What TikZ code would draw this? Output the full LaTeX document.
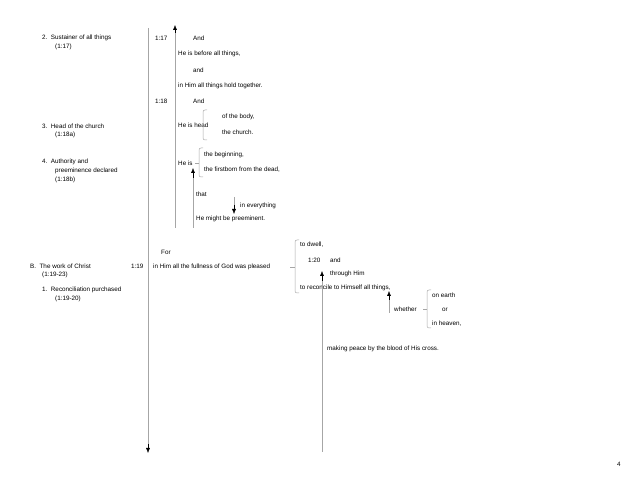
\documentclass[tikz,border=0pt]{standalone}
\usepackage{fontspec}
\setmainfont{Liberation Sans}
\usetikzlibrary{arrows.meta}
\begin{document}
\begin{tikzpicture}[x=1pt,y=-1pt,
  t/.style={anchor=west,inner sep=0pt,font=\fontsize{6.3}{7}\selectfont},
  ln/.style={draw=gray!70,line width=0.6pt},
  tip/.style={-{Latex[length=5pt,width=4pt]},black},
  brk/.style={draw=gray!70,line width=0.5pt,rounded corners=2pt}]
\useasboundingbox (0,0) rectangle (638,478);
% left outline
\node[t] (o2) at (42,38) {2.\ \ Sustainer of all things};
\node[t] (o2b) at (55,47) {(1:17)};
\node[t] (o3) at (42,126) {3.\ \ Head of the church};
\node[t] (o3b) at (55,135) {(1:18a)};
\node[t] (o4) at (42,162) {4.\ \ Authority and};
\node[t] (o4b) at (55,171) {preeminence declared};
\node[t] (o4c) at (55,180) {(1:18b)};
\node[t] (oB) at (30,266) {B.\ \ The work of Christ};
\node[t] (v19) at (131,266) {1:19};
\node[t] (oBb) at (42,275) {(1:19-23)};
\node[t] (o1) at (42,290) {1.\ \ Reconciliation purchased};
\node[t] (o1b) at (55,299) {(1:19-20)};
% text
\node[t] (v17) at (155,38) {1:17};
\node[t] (and1) at (193,38) {And};
\node[t] (bef) at (178,54) {He is before all things,};
\node[t] (and2) at (193,70) {and};
\node[t] (hold) at (178,86) {in Him all things hold together.};
\node[t] (v18) at (155,101) {1:18};
\node[t] (and3) at (193,101) {And};
\node[t] (body) at (222,117) {of the body,};
\node[t] (head) at (178,125) {He is head};
\node[t] (church) at (222,132) {the church.};
\node[t] (beg) at (204,155) {the beginning,};
\node[t] (heis) at (178,163) {He is};
\node[t] (first) at (204,170) {the firstborn from the dead,};
\node[t] (that) at (196,194) {that};
\node[t] (every) at (240,206) {in everything};
\node[t] (pre) at (196,219) {He might be preeminent.};
\node[t] (for) at (161,252) {For};
\node[t] (full) at (153,267) {in Him all the fullness of God was pleased};
\node[t] (dwell) at (300,245) {to dwell,};
\node[t] (v20) at (308,260) {1:20};
\node[t] (and4) at (330,260) {and};
\node[t] (thru) at (330,274) {through Him};
\node[t] (recon) at (300,288) {to reconcile to Himself all things,};
\node[t] (earth) at (432,295) {on earth};
\node[t] (whether) at (394,309) {whether};
\node[t] (or) at (442,310) {or};
\node[t] (heaven) at (432,324) {in heaven,};
\node[t] (peace) at (327,349) {making peace by the blood of His cross.};
\node[t] (pg) at (617,464) {4};
% lines
\coordinate (a0) at (148,28); \coordinate (a1) at (148,453);
\draw[ln] (a0) -- (148,445); \draw[tip] (148,444) -- (a1);
\coordinate (b0) at (175,228); \coordinate (b1) at (175,25);
\draw[ln] (b0) -- (175,32); \draw[tip] (175,33) -- (b1);
\draw[ln] (193,228) -- (193,177); \draw[tip] (193,178) -- (193,168);
\draw[ln] (234,197) -- (234,207); \draw[tip] (234,205) -- (234,214);
\draw[ln] (322,452) -- (322,280); \draw[tip] (322,281) -- (322,271);
\draw[ln] (389,313) -- (389,299); \draw[tip] (389,300) -- (389,291);
% brackets
\draw[brk] (207,110) -- (203,110) -- (203,140) -- (207,140);
\draw[brk] (203,125) -- (199,125);
\draw[brk] (203,148) -- (199,148) -- (199,177) -- (203,177);
\draw[brk] (199,163) -- (195,163);
\draw[brk] (299,240) -- (295,240) -- (295,293) -- (299,293);
\draw[brk] (295,267) -- (290,267);
\draw[brk] (431,290) -- (427,290) -- (427,328) -- (431,328);
\draw[brk] (427,309) -- (423,309);
\end{tikzpicture}
\end{document}
